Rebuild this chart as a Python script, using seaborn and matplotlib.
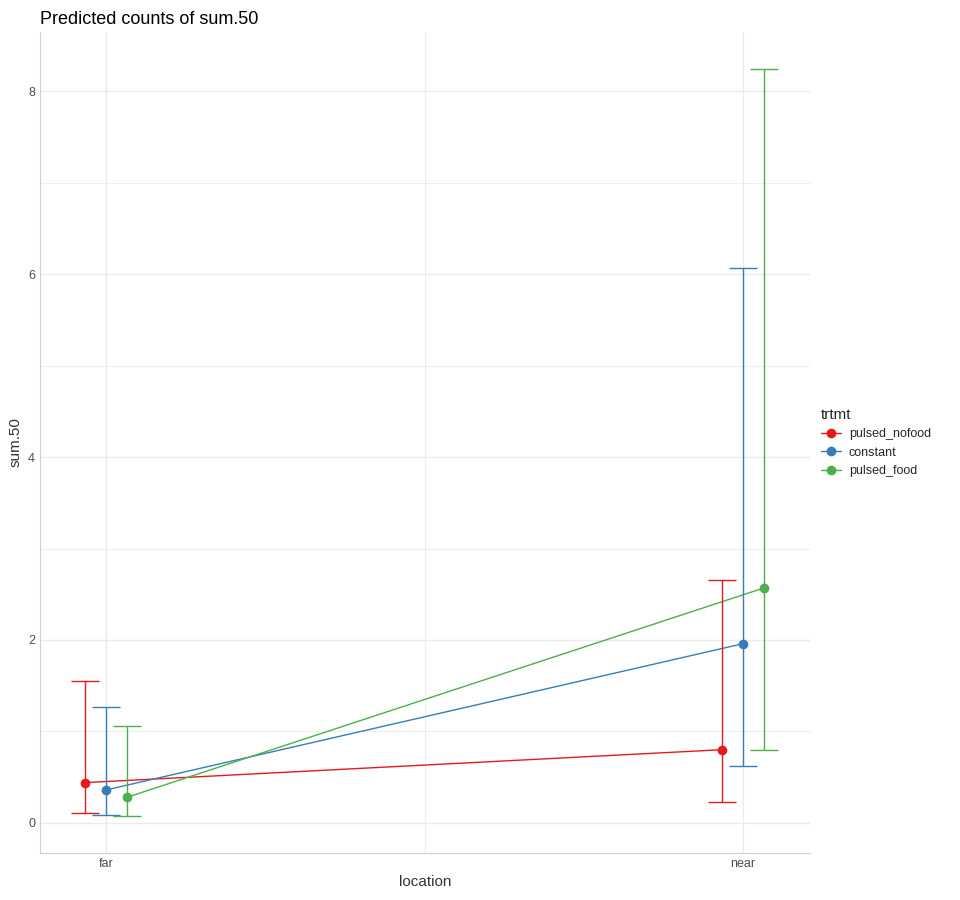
import matplotlib
matplotlib.use("Agg")
import matplotlib.pyplot as plt
import seaborn as sns
import pandas as pd
import numpy as np

locations = ["far", "near"]
groups = ["pulsed_nofood", "constant", "pulsed_food"]
colors = ["#E41A1C", "#377EB8", "#4DAF4A"]
pred = {"pulsed_nofood": [0.44, 0.80], "constant": [0.36, 1.96], "pulsed_food": [0.28, 2.57]}
low = {"pulsed_nofood": [0.11, 0.23], "constant": [0.09, 0.62], "pulsed_food": [0.07, 0.80]}
high = {"pulsed_nofood": [1.55, 2.66], "constant": [1.27, 6.07], "pulsed_food": [1.06, 8.25]}

rows = []
for gi, g in enumerate(groups):
    for li, loc in enumerate(locations):
        rows.append(dict(trtmt=g, loc=li, x=li + (gi - 1) * 0.033, y=pred[g][li], lo=low[g][li], hi=high[g][li]))
df = pd.DataFrame(rows)

sns.set_style("white")
plt.rcParams['font.family'] = ['Liberation Sans', 'DejaVu Sans']
fig = plt.figure(figsize=(9.6, 9.0), dpi=100)
ax = fig.add_axes([40/960, 1-853/900, 770/960, 821/900])
sns.lineplot(data=df, x="x", y="y", hue="trtmt", hue_order=groups, palette=colors,
             marker="o", markersize=7, markeredgewidth=0, linewidth=1, ax=ax)
for gi, g in enumerate(groups):
    d = df[df.trtmt == g]
    ax.errorbar(d.x, d.y, yerr=[d.y - d.lo, d.hi - d.y], fmt="none", ecolor=colors[gi],
                elinewidth=1, capsize=10, capthick=1)

ax.set_xlim(-0.104, 1.105)
ax.set_ylim(-0.33, 8.65)
ax.set_xticks([0, 1])
ax.set_xticklabels(locations)
ax.set_xticks([0.5], minor=True)
ax.set_yticks([0, 2, 4, 6, 8])
ax.set_yticks([1, 3, 5, 7], minor=True)
ax.grid(True, which="major", color="#EBEBEB", linewidth=1)
ax.grid(True, which="minor", color="#EBEBEB", linewidth=0.6)
ax.tick_params(axis="both", which="both", length=0, colors="#4D4D4D", labelsize=9)
for s in ["top", "right"]:
    ax.spines[s].set_visible(False)
for s in ["left", "bottom"]:
    ax.spines[s].set_color("#D0D0D0")
ax.set_xlabel("location", fontsize=11, color="#333333")
ax.set_ylabel("sum.50", fontsize=11, color="#333333")
ax.set_title("Predicted counts of sum.50", loc="left", fontsize=13, color="black")
leg = ax.legend(title="trtmt", loc="center left", bbox_to_anchor=(1.0, 0.5), frameon=False,
                fontsize=9, title_fontsize=11, handlelength=1.6, handletextpad=0.6)
leg._legend_box.align = "left"
fig.savefig("out.png", dpi=100)
